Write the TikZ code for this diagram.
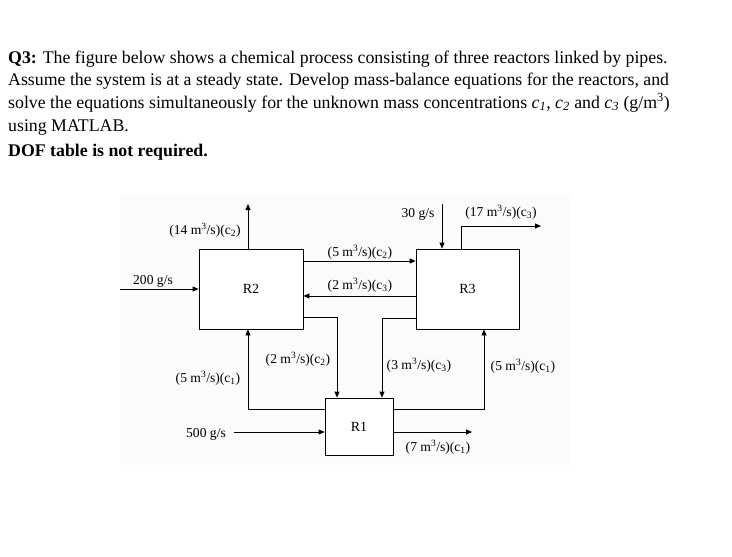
\documentclass[tikz,border=0pt]{standalone}
\usepackage{fontspec}
\setmainfont{Liberation Serif}
\usetikzlibrary{arrows.meta}
\begin{document}
\begin{tikzpicture}[x=1pt,y=-1pt,
  box/.style={draw,line width=0.8pt,fill=white},
  flow/.style={line width=0.8pt,-{Triangle[length=6pt,width=5pt]}},
  lbl/.style={font=\fontsize{13.6}{15}\selectfont,inner sep=0pt},
  para/.style={anchor=base west,inner sep=0pt,font=\fontsize{17.8}{20}\selectfont}]
\useasboundingbox (0,0) rectangle (732,557);
\fill[gray!3] (120,195) rectangle (570,465);
\newcommand{\ms}[2]{(#1 m\textsuperscript{3}/s)(c\textsubscript{#2})}
\node[para] (t1) at (8,63) {\textbf{Q3:} The figure below shows a chemical process consisting of three reactors linked by pipes.};
\node[para] (t2) at (8,85) {Assume the system is at a steady state. Develop mass-balance equations for the reactors, and};
\node[para] (t3) at (8,108) {solve the equations simultaneously for the unknown mass concentrations \textit{c\textsubscript{1}}, \textit{c\textsubscript{2}} and \textit{c\textsubscript{3}} (g/m\textsuperscript{3})};
\node[para] (t4) at (8,131) {using MATLAB.};
\node[para] (t5) at (8,156) {\textbf{DOF table is not required.}};
% boxes
\node[box,minimum width=104pt,minimum height=80pt,inner sep=0pt,font=\fontsize{14}{15}\selectfont] (R2) at (251,289) {R2};
\node[box,minimum width=103pt,minimum height=80pt,inner sep=0pt,font=\fontsize{14}{15}\selectfont] (R3) at (467.5,289) {R3};
\node[box,minimum width=68pt,minimum height=57pt,inner sep=0pt,font=\fontsize{14}{15}\selectfont] (R1) at (359,426.5) {R1};
% coordinates
\coordinate (inA) at (120,289);
\coordinate (topR2) at (248,204);
\coordinate (in30) at (442,204);
\coordinate (c17a) at (461,226);
\coordinate (c17b) at (541,226);
\coordinate (a1) at (337,317);
\coordinate (a2) at (382,318);
\coordinate (l1) at (248,409);
\coordinate (r1) at (484,409);
\coordinate (in500) at (234,432);
\coordinate (out7) at (472,432);
% connectors
\draw[flow] (inA) -- (inA -| R2.west);
\draw[flow] (R2.north -| topR2) -- (topR2);
\draw[flow] (R2.east |- 0,261) -- (R3.west |- 0,261);
\draw[flow] (R3.west |- 0,296) -- (R2.east |- 0,296);
\draw[flow] (R2.east |- a1) -- (a1) -- (a1 |- R1.north);
\draw[flow] (R3.west |- a2) -- (a2) -- (a2 |- R1.north);
\draw[flow] (R1.west |- l1) -- (l1) -- (l1 |- R2.south);
\draw[flow] (R1.east |- r1) -- (r1) -- (r1 |- R3.south);
\draw[flow] (in500) -- (in500 -| R1.west);
\draw[flow] (R1.east |- out7) -- (out7);
\draw[flow] (in30) -- (in30 |- R3.north);
\draw[flow] (c17a |- R3.north) -- (c17a) -- (c17b);
% labels
\node[lbl] (L1) at (205,230) {\ms{14}{2}};
\node[lbl] (L2) at (360,252) {\ms{5}{2}};
\node[lbl] (L3) at (360,285) {\ms{2}{3}};
\node[lbl] (L4) at (153,281) {200 g/s};
\node[lbl] (L5) at (418,214) {30 g/s};
\node[lbl] (L6) at (501,212) {\ms{17}{3}};
\node[lbl] (L7) at (298,359) {\ms{2}{2}};
\node[lbl] (L8) at (208,378) {\ms{5}{1}};
\node[lbl] (L9) at (419,365) {\ms{3}{3}};
\node[lbl] (L10) at (523,366) {\ms{5}{1}};
\node[lbl] (L11) at (206,434) {500 g/s};
\node[lbl] (L12) at (438,447) {\ms{7}{1}};
\end{tikzpicture}
\end{document}
